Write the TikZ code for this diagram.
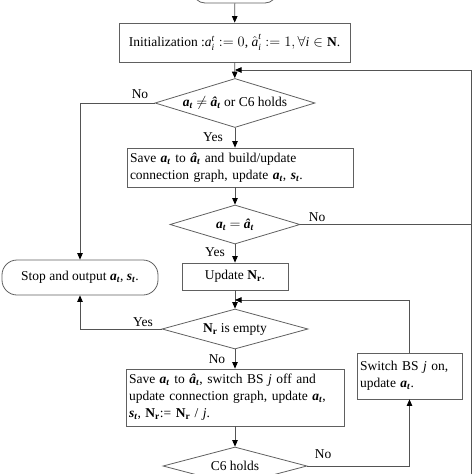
\documentclass[tikz,border=0pt]{standalone}
\usepackage{amsmath}
\usepackage{fontspec}
\setmainfont{Liberation Serif}
\usetikzlibrary{shapes.geometric,arrows.meta}
\newcommand{\vat}{\textbf{\textit{a}}\textsubscript{\textbf{\textit{t}}}}
\newcommand{\vaht}{\textbf{\textit{\^a}}\textsubscript{\textbf{\textit{t}}}}
\newcommand{\vst}{\textbf{\textit{s}}\textsubscript{\textbf{\textit{t}}}}
\newcommand{\vNr}{\textbf{N}\textsubscript{\textbf{r}}}
\begin{document}
\begin{tikzpicture}[x=1pt,y=-1pt,
  font=\fontsize{13.5}{17}\selectfont,
  box/.style={draw=gray!75!black, line width=0.8pt, rectangle, inner sep=0pt},
  dia/.style={draw=gray!75!black, line width=0.8pt, diamond, inner sep=0pt},
  arr/.style={draw=gray!65!black, line width=0.8pt, -{Triangle[length=6.5pt,width=5.5pt,color=black]}},
  ln/.style={draw=gray!65!black, line width=0.8pt},
  lab/.style={inner sep=0pt}]
\useasboundingbox (0,0) rectangle (474,474);
\clip (0,0) rectangle (474,474);
% nodes
\node[box, rounded corners=12pt, minimum width=84pt, minimum height=33pt] (start) at (235,-13.5) {};
\node[box, minimum width=231pt, minimum height=39pt] (init) at (234.5,42.5)
  {Initialization :$\textit{a}_{\textit{i}}^{\textit{t}} := 0$, $\hat{\textit{a}}_{\textit{i}}^{\textit{t}} := 1, \forall \textit{i} \in \mathbf{N}$.};
\node[dia, minimum width=160pt, minimum height=49pt] (d1) at (235,103)
  {\makebox[0pt]{\vat{} $\neq$ \vaht{} or C6 holds}};
\node[box, text width=220pt, inner xsep=3pt, minimum height=39pt, align=left] (b2) at (240,167.5)
  {Save \vat{} to \vaht{} and build/update\\connection graph, update \vat, \vst.};
\node[dia, minimum width=130pt, minimum height=39pt] (d3) at (235,224.5)
  {\makebox[0pt]{\vat{} $=$ \vaht}};
\node[box, minimum width=106pt, minimum height=27pt] (upd) at (235,276.5) {Update \vNr.};
\node[box, rounded corners=15pt, minimum width=156pt, minimum height=35pt] (stop) at (80,277.5)
  {Stop and output \vat, \vst.};
\node[dia, minimum width=146pt, minimum height=40pt] (d4) at (235,329)
  {\makebox[0pt]{\vNr{} is empty}};
\node[box, text width=212pt, inner xsep=3pt, minimum height=57pt, align=left] (b5) at (235,397.5)
  {Save \vat{} to \vaht, switch BS \textit{j} off and\\update connection graph, update \vat{},\\\vst, \vNr:= \vNr{} / \textit{j}.};
\node[box, text width=99pt, inner xsep=3pt, minimum height=46pt, align=left] (sw) at (409.5,376)
  {Switch BS \textit{j} on,\\update \vat.};
\node[dia, minimum width=144pt, minimum height=38pt] (d5) at (235,466)
  {\makebox[0pt]{C6 holds}};
% coordinates
\coordinate (j1) at (235,70);
\coordinate (j2) at (235,300);
\coordinate (rb) at (471,480);
% connectors
\draw[arr] (start) -- (init);
\draw[arr] (init) -- (d1);
\draw[arr] (d1.south) -- (d1.south |- b2.north);
\draw[arr] (b2.south -| d3.north) -- (d3.north);
\draw[arr] (d3) -- (upd);
\draw[arr] (upd) -- (d4);
\draw[arr] (d4) -- (b5);
\draw[arr] (b5) -- (d5);
\draw[arr] (d1.west) -| (stop.north);
\draw[arr] (d4.west) -| (stop.south);
\draw[arr] (d5.east) -| (sw.south);
\draw[arr] (sw.north) |- (j2);
\draw[ln] (d3.east) -- (d3.east -| rb);
\draw[arr] (rb) |- (j1);
% labels
\node[lab] (l1) at (140,94) {No};
\node[lab] (l2) at (213,137) {Yes};
\node[lab] (l3) at (317,217) {No};
\node[lab] (l4) at (215,252) {Yes};
\node[lab] (l5) at (143,322) {Yes};
\node[lab] (l6) at (217,359) {No};
\node[lab] (l7) at (323,454) {No};
\end{tikzpicture}
\end{document}
